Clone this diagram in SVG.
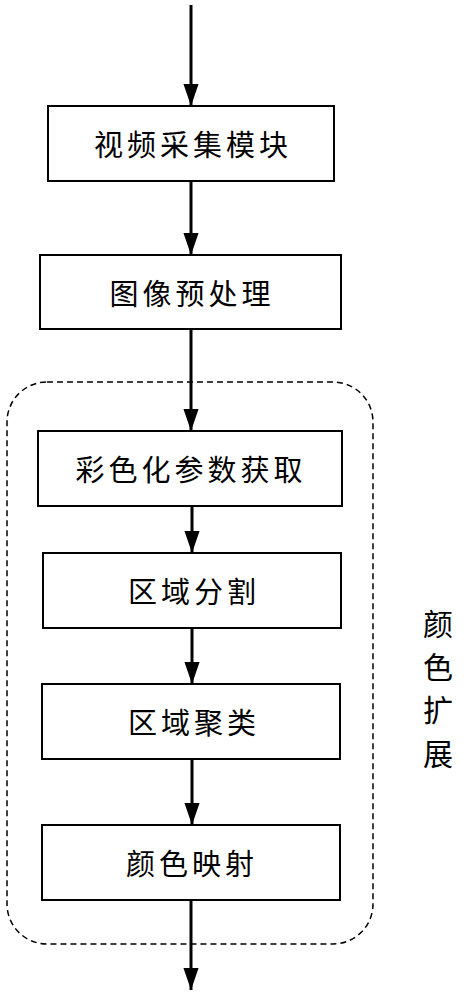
<svg xmlns="http://www.w3.org/2000/svg" width="464" height="1000" viewBox="0 0 464 1000">
<style>
.box{fill:#fff;stroke:#000;stroke-width:2}
.lbl{font-family:"Noto Sans CJK SC","Noto Sans",sans-serif;font-size:29px;fill:#000;text-anchor:middle;dominant-baseline:central;letter-spacing:4px}
.side{font-family:"Noto Sans CJK SC","Noto Sans",sans-serif;font-size:30px;fill:#000;text-anchor:middle;dominant-baseline:central}
.conn{stroke:#000;stroke-width:3;fill:none;marker-end:url(#ah)}
</style>
<defs>
<marker id="ah" markerUnits="userSpaceOnUse" markerWidth="22" markerHeight="32" refX="32" refY="11" orient="auto" viewBox="0 0 32 22">
<path d="M0,0 L32,11 L0,22 Z" fill="#000"/>
</marker>
</defs>
<rect id="group-color-expand" x="7" y="382" width="366" height="562" rx="40" ry="40" fill="none" stroke="#000" stroke-width="1.5" stroke-dasharray="6,4"/>
<g id="connectors">
<line class="conn" x1="191" y1="5" x2="191" y2="106"/>
<line class="conn" x1="191" y1="181" x2="191" y2="255"/>
<line class="conn" x1="191" y1="329" x2="191" y2="431"/>
<line class="conn" x1="192" y1="506" x2="192" y2="553"/>
<line class="conn" x1="192" y1="628" x2="192" y2="684"/>
<line class="conn" x1="192" y1="759" x2="192" y2="825"/>
<line class="conn" x1="191" y1="900" x2="191" y2="990"/>
</g>
<g id="n1"><rect class="box" x="48" y="106" width="286" height="75"/><text class="lbl" x="193" y="143">视频采集模块</text></g>
<g id="n2"><rect class="box" x="40" y="255" width="301" height="74"/><text class="lbl" x="192" y="292">图像预处理</text></g>
<g id="n3"><rect class="box" x="38" y="431" width="304" height="75"/><text class="lbl" x="191" y="468">彩色化参数获取</text></g>
<g id="n4"><rect class="box" x="43" y="553" width="298" height="75"/><text class="lbl" x="194" y="590">区域分割</text></g>
<g id="n5"><rect class="box" x="42" y="684" width="298" height="75"/><text class="lbl" x="194" y="721">区域聚类</text></g>
<g id="n6"><rect class="box" x="42" y="825" width="298" height="75"/><text class="lbl" x="192" y="862">颜色映射</text></g>
<g id="side-label">
<text class="side" x="438" y="622">颜</text>
<text class="side" x="438" y="665">色</text>
<text class="side" x="438" y="708">扩</text>
<text class="side" x="438" y="752">展</text>
</g>
</svg>
